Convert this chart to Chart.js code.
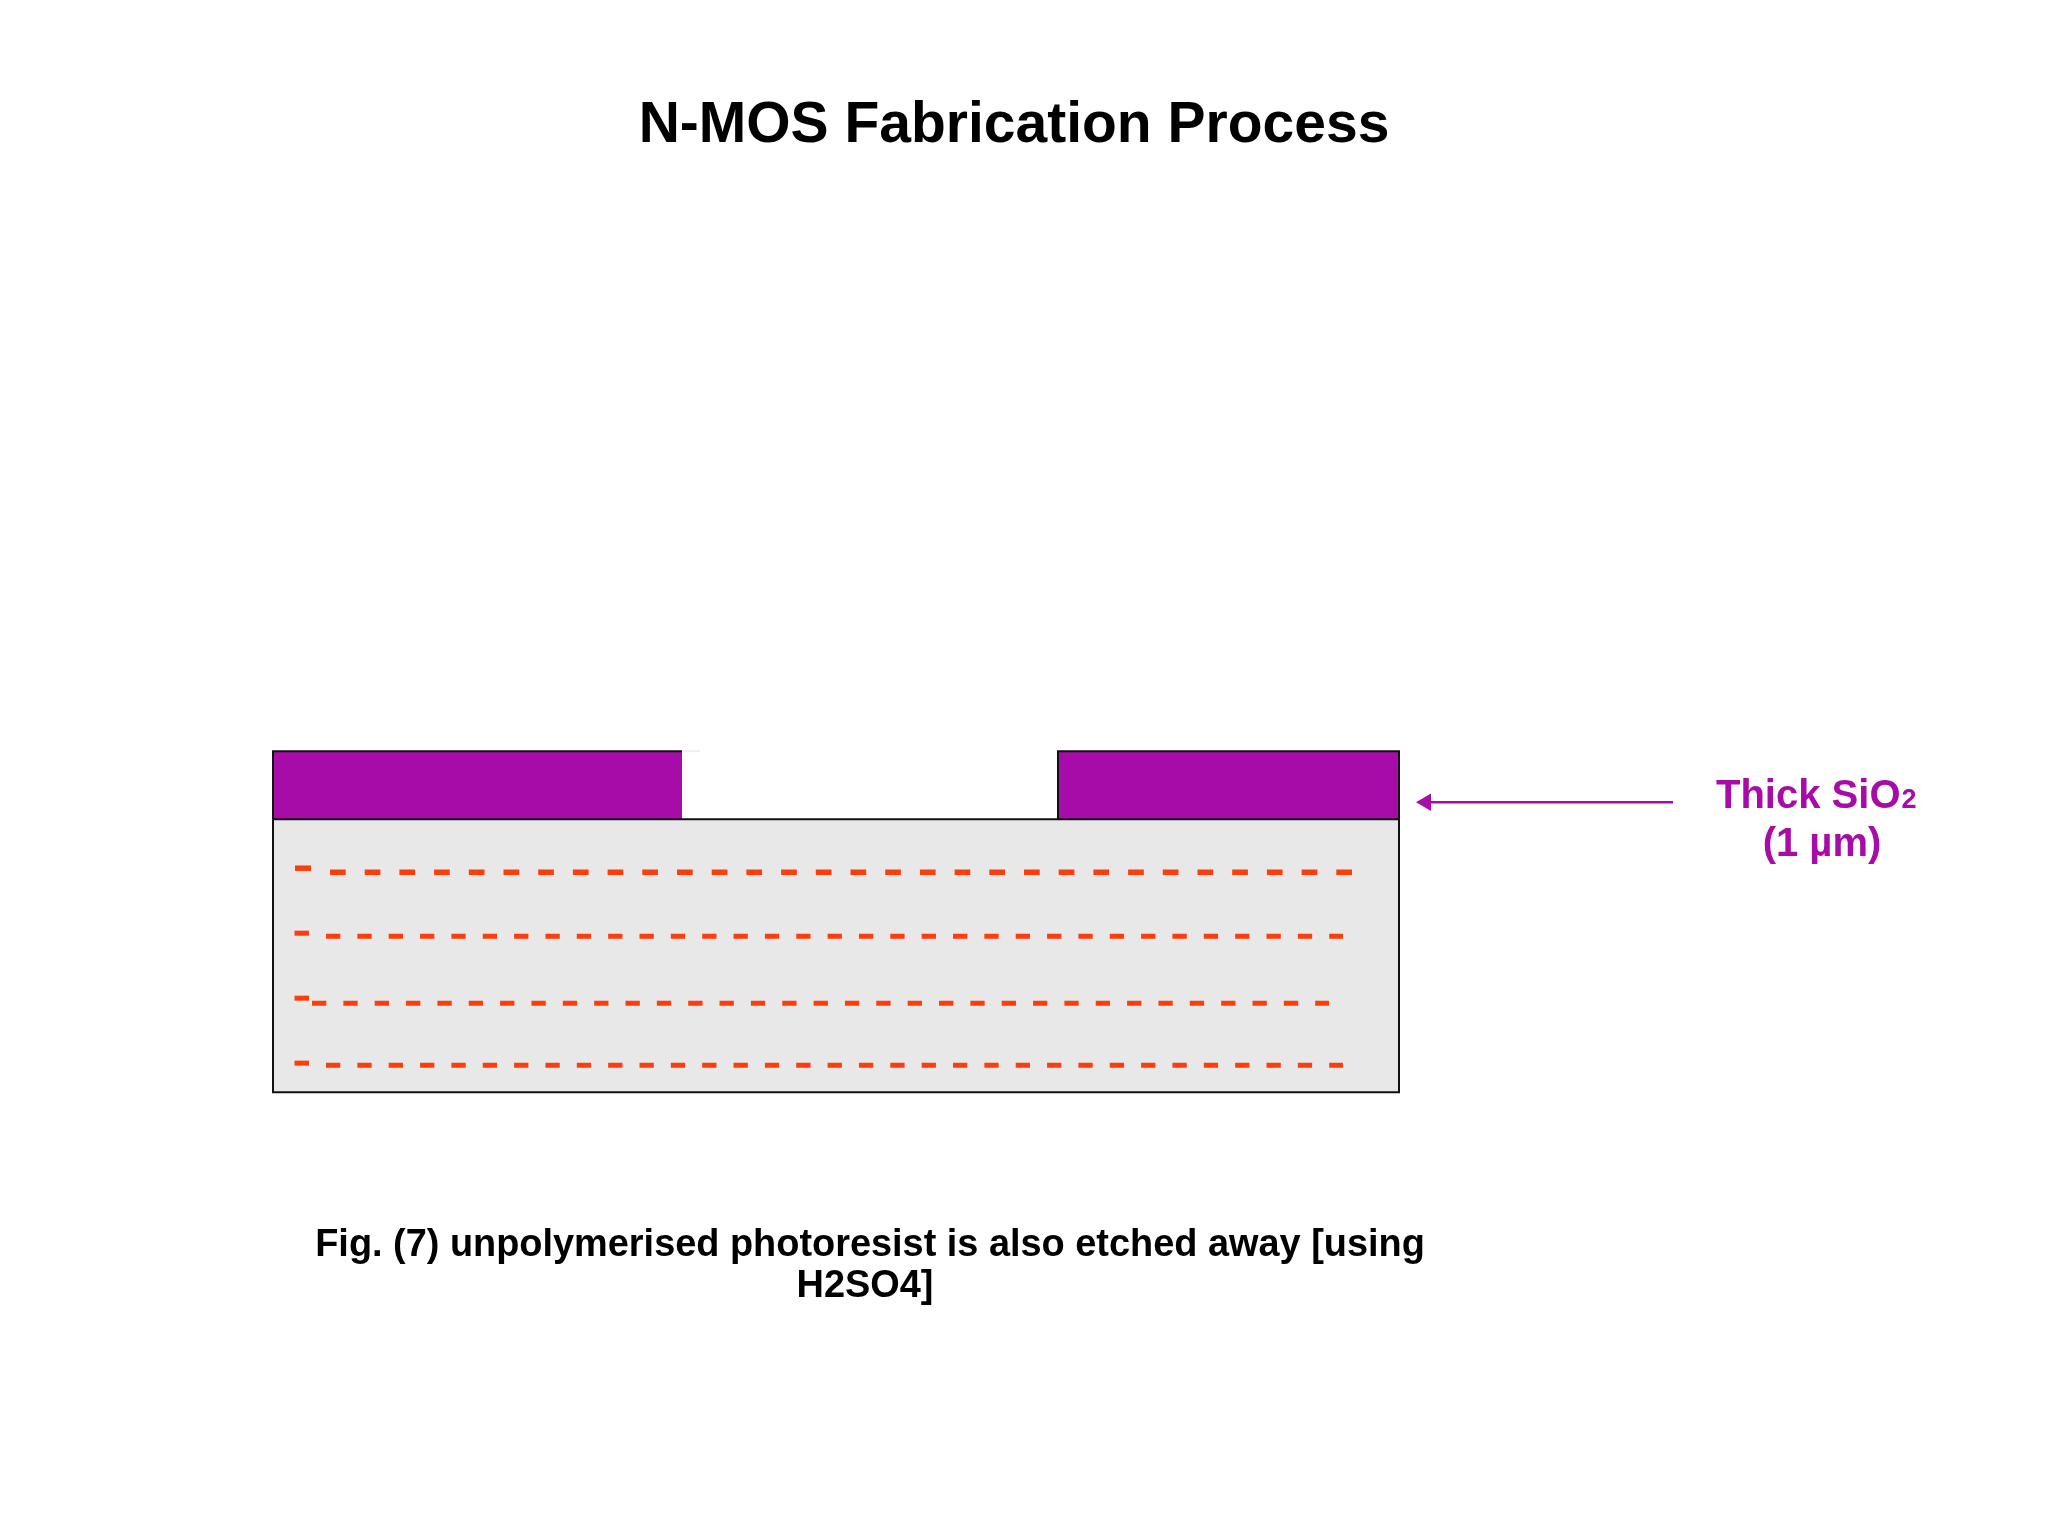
<!DOCTYPE html>
<html>
<head>
<meta charset="utf-8">
<title>N-MOS Fabrication Process</title>
<script src="https://cdn.jsdelivr.net/npm/chart.js@4"></script>
<style>
  html, body { margin: 0; padding: 0; background: #fff; }
  canvas { display: block; }
</style>
</head>
<body>
<canvas id="processChart" width="2048" height="1536"></canvas>
<script>
// Layer outlines
const substrateX = [273, 1399];
const substrateY = [819, 1092];
const oxideTopY = 751;
const oxideLeftX = [273, 682];
const oxideRightX = [1058, 1399];
const faintEdgeX = [682, 700];

// Rows of minus signs in the substrate
const chargeRowY = [872, 936, 1003, 1065];
const chargeRowStart = [330, 326, 312, 326];
const chargeRowEnd = [1353, 1343, 1329, 1343];
const strayDashY = [868, 933, 998, 1063];
const strayDashStart = [295, 294.5, 294.5, 294.5];
const strayDashEnd = [311, 309, 309, 309];

// Arrow pointing at the oxide
const arrowX = [1673, 1426];
const arrowY = 802;

// Text
const titleText = "N-MOS Fabrication Process";
const calloutFirst = "Thick SiO";
const calloutSub = "2";
const calloutSecond = "(1 µm)";
const captionLines = ["Fig. (7) unpolymerised photoresist is also etched away [using", "H2SO4]"];

const PURPLE = "#a80ca8";
const GREY = "#e9e8e9";
const ORANGE = "#ff3d0a";
const OUTLINE = "#111";
const TEXT_FONT = '"Liberation Sans", Arial, sans-serif';

function path(xs, ys) {
  return xs.map((x, i) => ({ x, y: ys[i] }));
}

function lineSet(label, data, extra = {}) {
  return {
    label,
    data,
    showLine: true,
    pointRadius: 0,
    borderColor: OUTLINE,
    borderWidth: 2,
    tension: 0,
    fill: false,
    clip: false,
    ...extra,
  };
}

function fillSet(label, xs, color, topY, bottomY) {
  return lineSet(label, path(xs, [topY, topY]), {
    borderColor: color,
    borderWidth: 0,
    backgroundColor: color,
    fill: { value: bottomY },
  });
}

const datasets = [];

// Outlines go first so they end up on top of the fills
datasets.push(
  lineSet("Substrate outline", path(
    [substrateX[0], substrateX[1], substrateX[1], substrateX[0], substrateX[0]],
    [substrateY[0], substrateY[0], substrateY[1], substrateY[1], substrateY[0]]
  )),
  lineSet("Left oxide outline", path(
    [oxideLeftX[0], oxideLeftX[0], oxideLeftX[1]],
    [substrateY[0], oxideTopY, oxideTopY]
  )),
  lineSet("Right oxide outline", path(
    [oxideRightX[0], oxideRightX[0], oxideRightX[1], oxideRightX[1]],
    [substrateY[0], oxideTopY, oxideTopY, substrateY[0]]
  )),
  lineSet("Faint edge", path(faintEdgeX, [oxideTopY, oxideTopY]), { borderColor: "#eee" })
);

// Charge rows
chargeRowY.forEach((y, i) => {
  const wide = i === 0;
  datasets.push(
    lineSet("Charge row " + (i + 1), path([chargeRowStart[i], chargeRowEnd[i]], [y, y]), {
      borderColor: ORANGE,
      borderWidth: wide ? 5.5 : 5,
      borderDash: wide ? [15.7, 19] : [14.3, 17.05],
    }),
    lineSet("Stray dash " + (i + 1), path([strayDashStart[i], strayDashEnd[i]], [strayDashY[i], strayDashY[i]]), {
      borderColor: ORANGE,
      borderWidth: wide ? 5.5 : 5,
    })
  );
});

// Arrow
datasets.push(
  lineSet("Arrow", path(arrowX, [arrowY, arrowY]), {
    borderColor: PURPLE,
    backgroundColor: PURPLE,
    borderWidth: 2.5,
    pointRadius: [0, 10],
    pointBorderWidth: 0,
    pointStyle: "triangle",
    rotation: 270,
  })
);

// Fills
datasets.push(
  fillSet("Left oxide", oxideLeftX, PURPLE, oxideTopY, substrateY[0]),
  fillSet("Right oxide", oxideRightX, PURPLE, oxideTopY, substrateY[0]),
  fillSet("Substrate", substrateX, GREY, substrateY[0], substrateY[1])
);

// Draws the callout and the caption at scale positions
const textBlocks = {
  id: "textBlocks",
  afterDatasetsDraw(chart) {
    const { ctx, scales } = chart;
    const px = (v) => scales.x.getPixelForValue(v);
    const py = (v) => scales.y.getPixelForValue(v);
    const bold = (size) => "bold " + size + "px " + TEXT_FONT;

    ctx.save();
    ctx.textBaseline = "alphabetic";

    // Callout, the subscript is a smaller glyph on the same baseline
    ctx.fillStyle = PURPLE;
    ctx.textAlign = "left";
    ctx.font = bold(40);
    ctx.fillText(calloutFirst, px(1716), py(808));
    const firstWidth = ctx.measureText(calloutFirst).width;
    ctx.font = bold(27);
    ctx.fillText(calloutSub, px(1716) + firstWidth + 1, py(808));
    ctx.textAlign = "center";
    ctx.font = bold(40);
    ctx.fillText(calloutSecond, px(1822), py(856));

    // Caption
    ctx.fillStyle = "#000";
    ctx.font = bold(37.9);
    captionLines.forEach((line, i) => {
      ctx.fillText(line, px([870, 865][i]), py([1256, 1297][i]));
    });
    ctx.restore();
  },
};

new Chart(document.getElementById("processChart"), {
  type: "scatter",
  data: { datasets },
  plugins: [textBlocks],
  options: {
    responsive: false,
    animation: false,
    layout: { autoPadding: false, padding: { right: 20 } },
    plugins: {
      legend: { display: false },
      tooltip: { enabled: false },
      title: {
        display: true,
        fullSize: false,
        text: titleText,
        color: "#000",
        font: { family: TEXT_FONT, size: 57, weight: "bold", lineHeight: 1.2 },
        padding: { top: 92, bottom: 40 },
      },
    },
    scales: {
      x: { type: "linear", min: 0, max: 2028, display: false },
      y: { type: "linear", min: 200, max: 1536, reverse: true, display: false },
    },
  },
});
</script>
</body>
</html>
